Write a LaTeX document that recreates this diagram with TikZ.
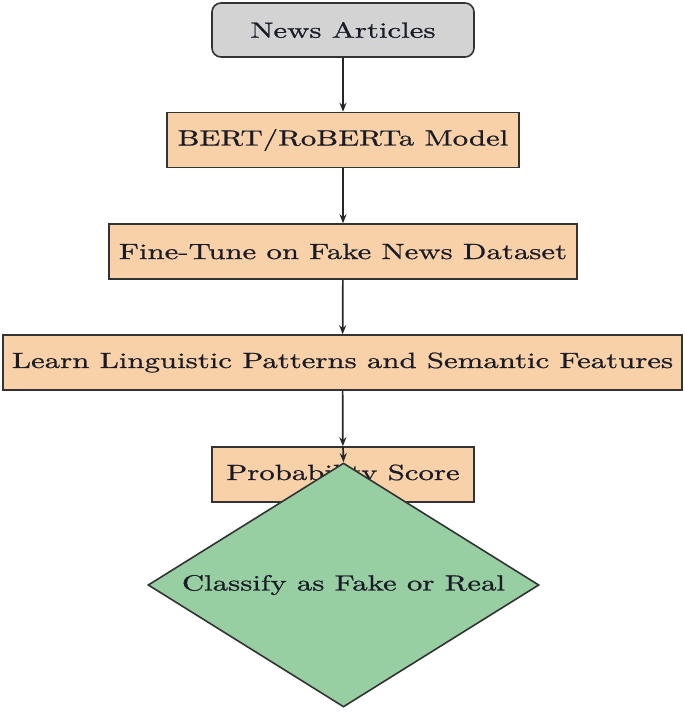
\documentclass[tikz,border=0pt]{standalone}
\usepackage{fontspec}
\setmainfont{lmroman10-regular.otf}[FakeStretch=1.4,FakeBold=0.8]
\usetikzlibrary{shapes.geometric,arrows.meta}
\definecolor{boxorange}{RGB}{248,209,168}
\definecolor{boxgray}{RGB}{211,211,211}
\definecolor{diagreen}{RGB}{152,207,162}
\definecolor{txt}{RGB}{25,28,40}
\begin{document}
\begin{tikzpicture}[x=1pt,y=-1pt,
  every node/.style={font=\fontsize{22}{26}\selectfont, text=txt},
  procbox/.style={draw=black!80, line width=1.6pt, fill=boxorange, minimum height=55pt, inner sep=0pt},
  startbox/.style={draw=black!80, line width=1.6pt, fill=boxgray, rounded corners=9pt, minimum height=54pt, minimum width=262pt, inner sep=0pt},
  decbox/.style={draw=black!80, line width=1.6pt, fill=diagreen, diamond, minimum width=391pt, minimum height=244pt, inner sep=0pt},
  conn/.style={draw=black!85, line width=1.7pt, -{Stealth[length=9pt,width=7pt]}}]
\useasboundingbox (0,0) rectangle (685,712);
\node[startbox] (news) at (343,30) {News Articles};
\node[procbox, minimum width=352pt] (bert) at (343,140) {BERT/RoBERTa Model};
\node[procbox, minimum width=468pt] (fine) at (343,251.5) {Fine-Tune on Fake News Dataset};
\node[procbox, minimum width=679pt] (learn) at (342.5,362.5) {Learn Linguistic Patterns and Semantic Features};
\node[procbox, minimum width=262pt] (prob) at (343,474.5) {Probability Score};
\node[decbox] (dia) at (343.5,585) {};
\node at (dia) {Classify as Fake or Real};
\draw[conn] (news) -- (bert);
\draw[conn] (bert) -- (fine);
\draw[conn] (fine) -- (learn);
\draw[conn] (learn) -- (prob);
\draw[conn] (prob.north) -- (dia.north);
\end{tikzpicture}
\end{document}
